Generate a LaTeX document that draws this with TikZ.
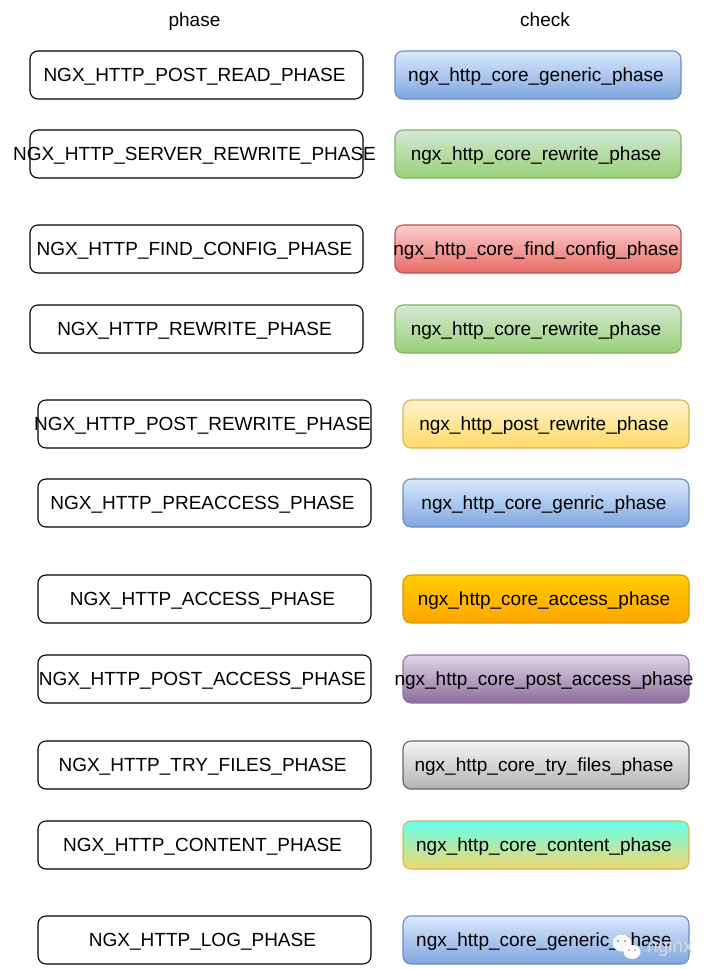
\documentclass[tikz,border=0pt]{standalone}
\usepackage{xcolor}
\usepackage{fontspec}
\setmainfont{Liberation Sans}

\definecolor{blueT}{HTML}{DAE8FC}
\definecolor{blueB}{HTML}{7EA6E0}
\definecolor{blueL}{HTML}{6C8EBF}
\definecolor{greenT}{HTML}{D5E8D4}
\definecolor{greenB}{HTML}{97D077}
\definecolor{greenL}{HTML}{82B366}
\definecolor{redT}{HTML}{F8CECC}
\definecolor{redB}{HTML}{EA6B66}
\definecolor{redL}{HTML}{B85450}
\definecolor{yellowT}{HTML}{FFF2CC}
\definecolor{yellowB}{HTML}{FFD966}
\definecolor{yellowL}{HTML}{D6B656}
\definecolor{orangeT}{HTML}{FFCD00}
\definecolor{orangeB}{HTML}{FFA500}
\definecolor{orangeL}{HTML}{D79B00}
\definecolor{purpleT}{HTML}{E1D5E7}
\definecolor{purpleB}{HTML}{8C6C9C}
\definecolor{purpleL}{HTML}{9673A6}
\definecolor{greyT}{HTML}{F5F5F5}
\definecolor{greyB}{HTML}{B3B3B3}
\definecolor{greyL}{HTML}{666666}
\definecolor{cyanT}{HTML}{66FFEE}
\definecolor{cyanB}{HTML}{F2D76E}
\definecolor{cyanL}{HTML}{D6B656}

\newcommand{\lbl}[1]{\makebox[0pt]{\kern-4pt #1}}

\tikzset{
    phasebox/.style={draw=black, line width=1.1pt, rounded corners=8pt, minimum width=333pt, minimum height=48pt, inner sep=0pt, text height=12pt, text depth=0pt, font=\fontsize{19}{23}\selectfont},
    checkbox/.style={draw=#1L, top color=#1T, bottom color=#1B, line width=1.1pt, rounded corners=8pt, minimum width=286pt, minimum height=48pt, inner sep=0pt, text height=12pt, text depth=0pt, font=\fontsize{19}{23}\selectfont},
    headtext/.style={anchor=base, inner sep=0pt, font=\fontsize{19}{23}\selectfont}
}

\begin{document}
\begin{tikzpicture}[x=1pt,y=-1pt]
    \useasboundingbox[fill=white] (0,0) rectangle (715,969);

    \node[headtext] (phasehead) at (194.5,26.5) {phase};
    \node[headtext] (checkhead) at (545,26.5) {check};

    % phase column
    \node[phasebox] (postread) at (196.5,75) {\lbl{NGX\_HTTP\_POST\_READ\_PHASE}};
    \node[phasebox] (srvrewrite) at (196.5,154) {\lbl{NGX\_HTTP\_SERVER\_REWRITE\_PHASE}};
    \node[phasebox] (findconfig) at (196.5,249) {\lbl{NGX\_HTTP\_FIND\_CONFIG\_PHASE}};
    \node[phasebox] (rewrite) at (196.5,329) {\lbl{NGX\_HTTP\_REWRITE\_PHASE}};
    \node[phasebox] (postrewrite) at (204.5,424) {\lbl{NGX\_HTTP\_POST\_REWRITE\_PHASE}};
    \node[phasebox] (preaccess) at (204.5,503) {\lbl{NGX\_HTTP\_PREACCESS\_PHASE}};
    \node[phasebox] (access) at (204.5,599) {\lbl{NGX\_HTTP\_ACCESS\_PHASE}};
    \node[phasebox] (postaccess) at (204.5,679) {\lbl{NGX\_HTTP\_POST\_ACCESS\_PHASE}};
    \node[phasebox] (tryfiles) at (204.5,765) {\lbl{NGX\_HTTP\_TRY\_FILES\_PHASE}};
    \node[phasebox] (content) at (204.5,845) {\lbl{NGX\_HTTP\_CONTENT\_PHASE}};
    \node[phasebox] (log) at (204.5,940) {\lbl{NGX\_HTTP\_LOG\_PHASE}};

    % check column
    \node[checkbox=blue] (cpostread) at (538,75) {\lbl{ngx\_http\_core\_generic\_phase}};
    \node[checkbox=green] (csrvrewrite) at (538,154) {\lbl{ngx\_http\_core\_rewrite\_phase}};
    \node[checkbox=red] (cfindconfig) at (538,249) {\lbl{ngx\_http\_core\_find\_config\_phase}};
    \node[checkbox=green] (crewrite) at (538,329) {\lbl{ngx\_http\_core\_rewrite\_phase}};
    \node[checkbox=yellow] (cpostrewrite) at (546,424) {\lbl{ngx\_http\_post\_rewrite\_phase}};
    \node[checkbox=blue] (cpreaccess) at (546,503) {\lbl{ngx\_http\_core\_genric\_phase}};
    \node[checkbox=orange] (caccess) at (546,599) {\lbl{ngx\_http\_core\_access\_phase}};
    \node[checkbox=purple] (cpostaccess) at (546,679) {\lbl{ngx\_http\_core\_post\_access\_phase}};
    \node[checkbox=grey] (ctryfiles) at (546,765) {\lbl{ngx\_http\_core\_try\_files\_phase}};
    \node[checkbox=cyan] (ccontent) at (546,845) {\lbl{ngx\_http\_core\_content\_phase}};
    \node[checkbox=blue] (clog) at (546,940) {\lbl{ngx\_http\_core\_generic\_phase}};

    % watermark
    \fill[white!92!gray] (622,943) ellipse (9.5pt and 8.5pt);
    \fill[white] (632,952) ellipse (8.5pt and 7pt);
    \fill[gray] (618,941) circle (1pt) (625,941) circle (1pt) (629,950) circle (0.9pt) (635,950) circle (0.9pt);
    \node[font=\fontsize{19}{23}\selectfont, text=white!70!gray, inner sep=0pt] (mark) at (670,948) {nginx};
\end{tikzpicture}
\end{document}
